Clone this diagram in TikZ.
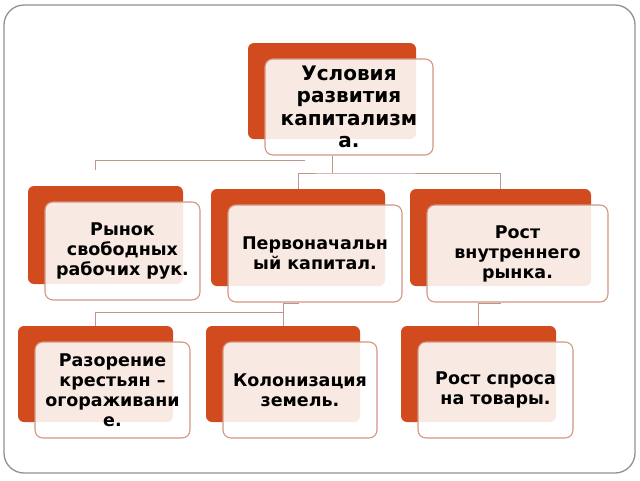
\documentclass[tikz,border=0pt]{standalone}
\usepackage{fontspec}
\setmainfont{DejaVu Sans}
\usetikzlibrary{backgrounds,calc}
\definecolor{rust}{RGB}{210,75,30}
\definecolor{cardline}{RGB}{212,150,130}
\definecolor{linkgray}{RGB}{190,150,140}
\definecolor{framegray}{RGB}{145,145,145}

\tikzset{
  card/.style={draw=cardline,line width=1.1pt,fill=white,fill opacity=0.88,
               text opacity=1,rounded corners=8pt,align=center,inner sep=0pt,
               font=\bfseries\fontsize{17.5}{20}\selectfont},
  block/.style={fill=rust,rounded corners=6pt,inner sep=0pt},
  link/.style={linkgray,line width=1pt}
}

\begin{document}
\begin{tikzpicture}[x=1pt,y=-1pt]
    \useasboundingbox (0,0) rectangle (640,480);
    % slide frame
    \draw[framegray,line width=1.3pt,rounded corners=20pt] (4,5) rectangle (635,473);
    % cards
    \node[card,minimum width=168pt,minimum height=96pt,
          font=\bfseries\fontsize{20}{22.5}\selectfont] (top) at (349,107)
          {Условия\\развития\\капитализм\\а.};
    \node[card,minimum width=155pt,minimum height=98pt] (left) at (122.5,251)
          {Рынок\\свободных\\рабочих рук.};
    \node[card,minimum width=174pt,minimum height=97pt] (mid) at (315,253.5)
          {Первоначальн\\ый капитал.};
    \node[card,minimum width=181pt,minimum height=97pt] (right) at (517.5,253.5)
          {Рост\\внутреннего\\рынка.};
    \node[card,minimum width=155pt,minimum height=96pt] (cleft) at (112.5,390)
          {Разорение\\крестьян –\\огораживани\\е.};
    \node[card,minimum width=154pt,minimum height=96pt] (cmid) at (300,390)
          {Колонизация\\земель.};
    \node[card,minimum width=155pt,minimum height=96pt] (cright) at (495.5,390)
          {Рост спроса\\на товары.};
    \begin{scope}[on background layer]
      % orange blocks behind the cards
      \foreach \n/\w/\h in {top/168/96,left/155/98,mid/174/97,right/181/97,
                            cleft/155/96,cmid/154/96,cright/155/96}
        \node[block,minimum width=\w pt,minimum height=\h pt] (o-\n)
              at ([shift={(-17,-16)}]\n.center) {};
    \end{scope}
    % connectors
    \draw[link] (o-top.south |- top.south) -- (o-top.south |- 0,173) coordinate (topbus);
    \draw[link] (o-mid.north) |- (topbus) -| (o-right.north);
    \draw[link] (95,170) |- (305,160);
    \draw[link] (o-mid.south |- mid.south) -- (o-mid.south |- 0,303) coordinate (midbus)
                -| (o-cmid.north);
    \draw[link] ($(midbus -| o-cmid.north)+(0,9)$) -| (o-cleft.north);
    \draw[link] (o-right.south |- right.south) -- (o-right.south |- 0,303)
                -| (o-cright.north);
\end{tikzpicture}
\end{document}
